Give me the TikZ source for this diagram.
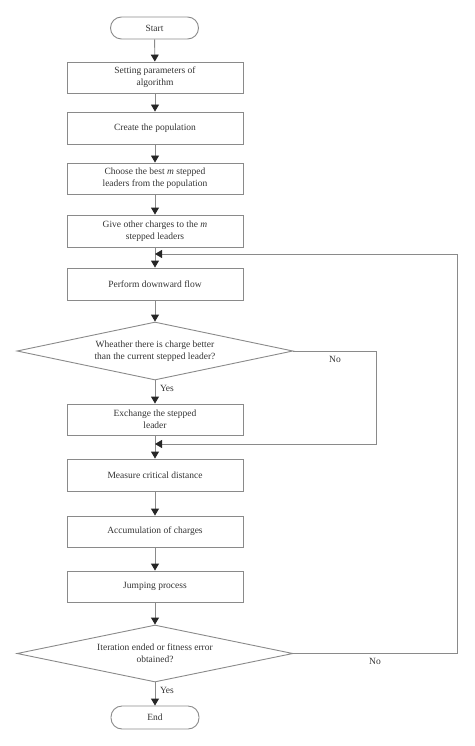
\documentclass[tikz,border=0pt]{standalone}
\usepackage{fontspec}
\setmainfont{Liberation Serif}
\usetikzlibrary{shapes.geometric,arrows.meta}
\definecolor{lc}{HTML}{8A8A8A}
\definecolor{tc}{HTML}{333333}
\begin{document}
\begin{tikzpicture}[x=1pt,y=1pt,
  every node/.style={text=tc,font=\fontsize{9.5}{12}\selectfont},
  procbox/.style={draw=lc,line width=0.9pt,minimum width=176pt,minimum height=31pt,inner sep=0pt,align=center},
  term/.style={draw=lc,line width=0.9pt,rounded corners=11pt,minimum width=88pt,minimum height=22pt,inner sep=0pt},
  decide/.style={draw=lc,line width=0.9pt,diamond,shape aspect=4.76,inner sep=0pt,minimum width=276pt,minimum height=58pt,align=center},
  conn/.style={draw=lc,line width=0.9pt},
  arr/.style={conn,-{Triangle[length=7pt,width=8pt,color=black!85]}},
  lbl/.style={font=\fontsize{9.5}{12}\selectfont}]
\useasboundingbox (0,0) rectangle (474,-746);
\node[term] (start) at (154.5,-28) {Start};
\node[procbox] (b1) at (155,-77.5) {Setting parameters of\\algorithm};
\node[procbox,minimum height=32pt] (b2) at (155,-128) {Create the population};
\node[procbox] (b3) at (155,-178.5) {Choose the best \textit{m} stepped\\leaders from the population};
\node[procbox,minimum height=32pt] (b4) at (155,-231) {Give other charges to the \textit{m}\\stepped leaders};
\node[procbox,minimum height=32pt] (b5) at (155,-284) {Perform downward flow};
\node[decide] (d1) at (155,-351) {Wheather there is charge better\\than the current stepped leader?};
\node[procbox] (ex) at (155,-419.5) {Exchange the stepped\\leader};
\node[procbox,minimum height=32pt] (b6) at (155,-475) {Measure critical distance};
\node[procbox] (b7) at (155,-531.5) {Accumulation of charges};
\node[procbox] (b8) at (155,-586.5) {Jumping process};
\node[decide,minimum height=57pt] (d2) at (155,-653.5) {Iteration ended or fitness error\\obtained?};
\node[term,minimum height=23pt] (end) at (155,-717.5) {End};

\coordinate (j1) at (155,-254);
\coordinate (j2) at (155,-444);
\coordinate (r1) at (376,-351);
\coordinate (r2) at (376,-444);
\coordinate (q1) at (457.5,-653.5);
\coordinate (q2) at (457.5,-254);

\draw[arr] (start) -- (b1);
\draw[arr] (b1) -- (b2);
\draw[arr] (b2) -- (b3);
\draw[arr] (b3) -- (b4);
\draw[conn] (b4.south) -- (j1);
\draw[arr] (j1) -- (b5);
\draw[arr] (b5) -- (d1);
\draw[arr] (d1) -- (ex);
\draw[conn] (ex.south) -- (j2);
\draw[arr] (j2) -- (b6);
\draw[arr] (b6) -- (b7);
\draw[arr] (b7) -- (b8);
\draw[arr] (b8) -- (d2);
\draw[arr] (d2) -- (end);
\draw[arr] (d1.east) -- (r1) -- (r2) -- (j2);
\draw[arr] (d2.east) -- (q1) -- (q2) -- (j1);

\node[lbl] (no1) at (335,-359) {No};
\node[lbl] (yes1) at (167,-388.5) {Yes};
\node[lbl] (no2) at (375,-661) {No};
\node[lbl] (yes2) at (167,-690.5) {Yes};
\end{tikzpicture}
\end{document}
